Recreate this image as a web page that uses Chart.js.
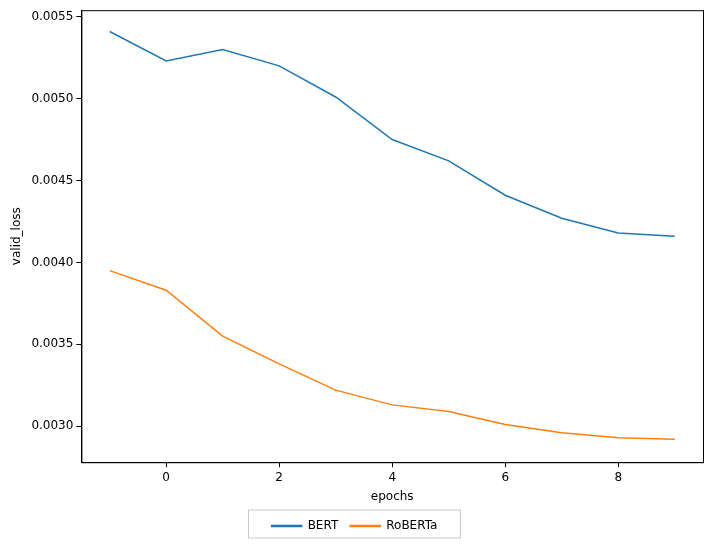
<!DOCTYPE html>
<html>
<head>
<script src="https://cdn.jsdelivr.net/npm/chart.js@4"></script>
<style>
body { margin: 0; background: #fff; }
#wrap { width: 718px; height: 550px; }
</style>
</head>
<body>
<div id="wrap"><canvas id="c"></canvas></div>
<script>
const epochs = [-1, 0, 1, 2, 3, 4, 5, 6, 7, 8, 9];
const bertLoss = [0.00541, 0.00523, 0.00530, 0.00520, 0.00501, 0.00475, 0.00462, 0.00441, 0.00427, 0.00418, 0.00416];
const robertaLoss = [0.00395, 0.00383, 0.00355, 0.00338, 0.00322, 0.00313, 0.00309, 0.00301, 0.00296, 0.00293, 0.00292];

const toPoints = (ys) => ys.map((y, i) => ({ x: epochs[i], y: y }));
const tickFont = { family: 'DejaVu Sans', size: 12 };

// frame around the plot area and the legend, matplotlib style
const frames = {
    id: 'frames',
    afterDraw(chart) {
        const ctx = chart.ctx, a = chart.chartArea, lg = chart.legend;
        ctx.save();
        ctx.strokeStyle = '#000';
        ctx.lineWidth = 1;
        ctx.strokeRect(a.left + 0.5, a.top + 0.5, a.right - a.left, a.bottom - a.top);
        ctx.strokeStyle = '#ccc';
        ctx.strokeRect(lg.left + lg.width / 2 - 106, lg.top + 2, 212, lg.height - 6);
        ctx.restore();
    }
};

new Chart(document.getElementById('c'), {
    type: 'line',
    data: {
        datasets: [
            { label: 'BERT', data: toPoints(bertLoss), borderColor: '#1f77b4', backgroundColor: '#1f77b4', borderWidth: 1.5, pointRadius: 0, tension: 0 },
            { label: 'RoBERTa', data: toPoints(robertaLoss), borderColor: '#ff7f0e', backgroundColor: '#ff7f0e', borderWidth: 1.5, pointRadius: 0, tension: 0 },
        ]
    },
    options: {
        responsive: true,
        maintainAspectRatio: false,
        animation: false,
        layout: { padding: { left: 6, right: 15, top: 9, bottom: 8 } },
        plugins: {
            legend: {
                position: 'bottom',
                labels: { color: '#000', font: tickFont, boxWidth: 30, boxHeight: 1, padding: 12 }
            },
            tooltip: { enabled: false }
        },
        scales: {
            x: {
                type: 'linear',
                min: -1.5, max: 9.5,
                grid: { display: true, drawOnChartArea: false, drawTicks: true, tickLength: 5, color: '#000' },
                border: { color: '#000' },
                ticks: { color: '#000', font: tickFont, padding: 3 },
                afterBuildTicks: (axis) => { axis.ticks = [0, 2, 4, 6, 8].map(v => ({ value: v })); },
                title: { display: true, text: 'epochs', color: '#000', font: tickFont, padding: { top: 2, bottom: 4 } }
            },
            y: {
                min: 0.00278, max: 0.00554,
                grid: { display: true, drawOnChartArea: false, drawTicks: true, tickLength: 5, color: '#000' },
                border: { color: '#000' },
                afterBuildTicks: (axis) => { axis.ticks = [0.0030, 0.0035, 0.0040, 0.0045, 0.0050, 0.0055].map(v => ({ value: v })); },
                ticks: { color: '#000', font: tickFont, padding: 3, callback: (v) => v.toFixed(4) },
                title: { display: true, text: 'valid_loss', color: '#000', font: tickFont }
            }
        }
    },
    plugins: [frames]
});
</script>
</body>
</html>
